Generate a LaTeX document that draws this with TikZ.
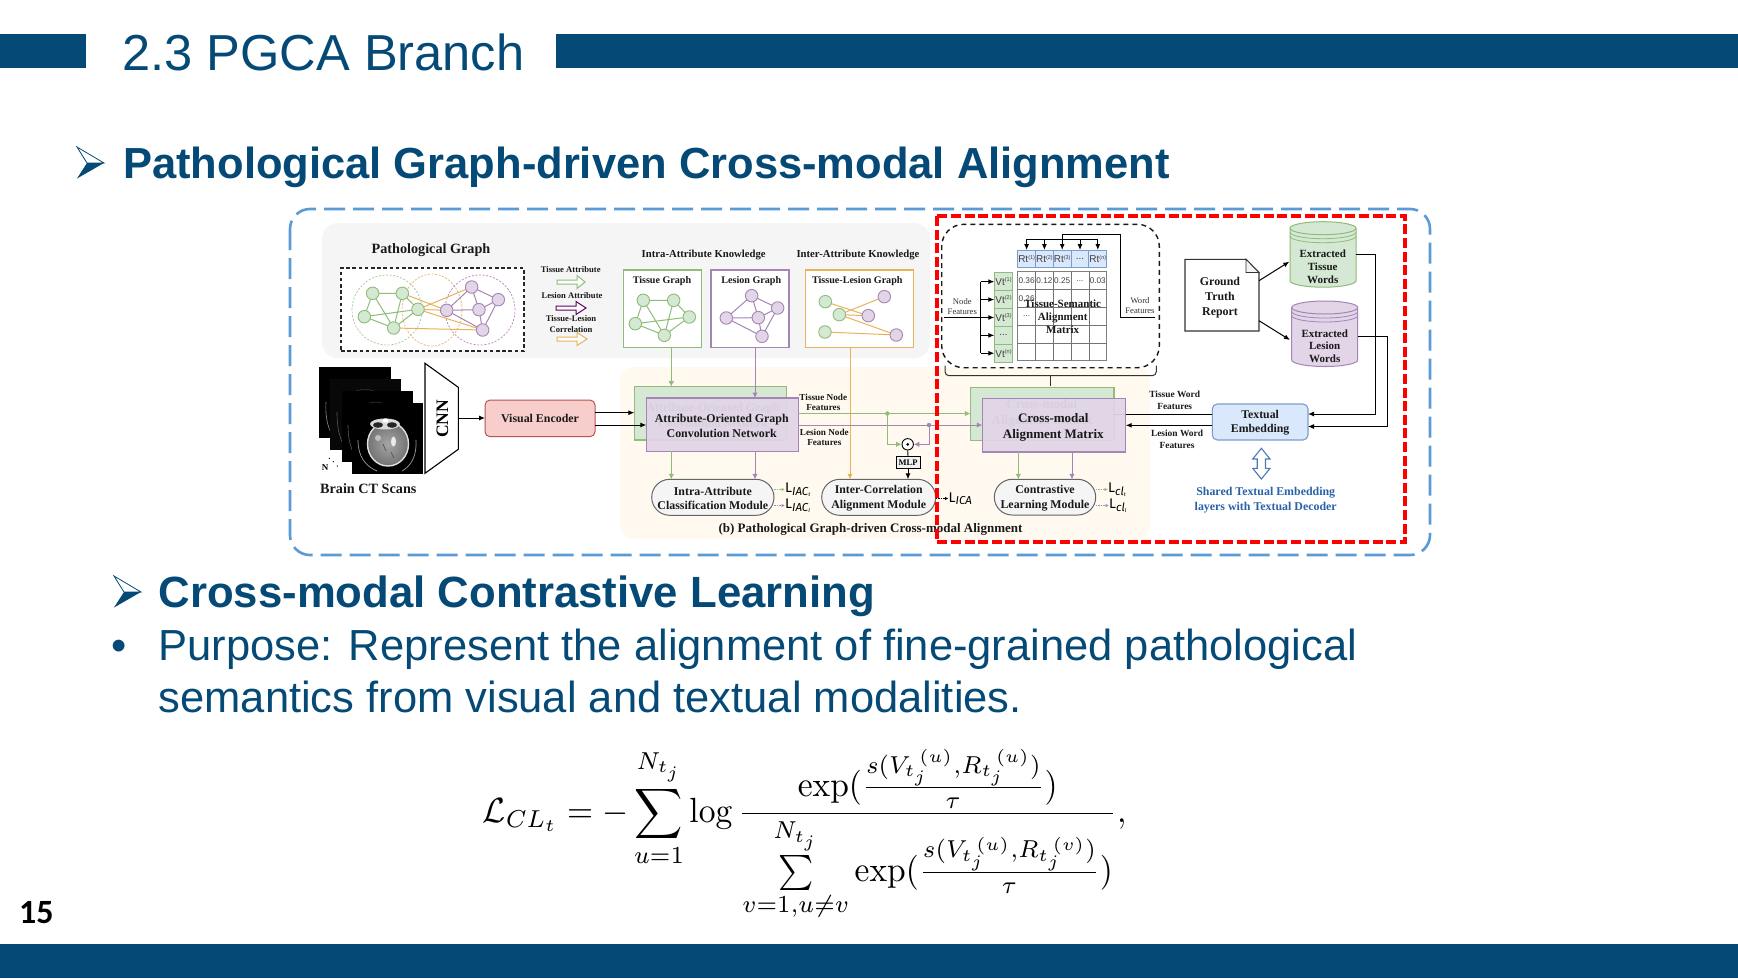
\documentclass[tikz,border=0pt]{standalone}
\usepackage{amsmath}
\usepackage{graphicx}
\usepackage[no-math]{fontspec}
\setmainfont{Liberation Sans}
\newfontfamily\serf{Liberation Serif}
\newfontfamily\lossf{Fira Sans}
\newfontfamily\numf{Carlito}
\usetikzlibrary{arrows.meta,calc,shapes.misc}
\definecolor{navy}{HTML}{054A76}
\definecolor{gfill}{HTML}{D5E8D4}\definecolor{gline}{HTML}{8FBC78}
\definecolor{pfill}{HTML}{E1D5E7}\definecolor{pline}{HTML}{A585B5}
\definecolor{bfill}{HTML}{DAE8FC}\definecolor{bline}{HTML}{7C9CCB}
\definecolor{rfill}{HTML}{F8CECC}\definecolor{rline}{HTML}{B85450}
\definecolor{oline}{HTML}{E6B35C}
\definecolor{cream}{HTML}{FFF9F0}
\definecolor{frameblue}{HTML}{5B9BD5}
\definecolor{sharedblue}{HTML}{2A62A8}
\newcommand\fsz[2]{\fontsize{#1}{#2}\selectfont}
\newcommand\supx[1]{\raisebox{3.6pt}{\fsz{5.5}{6}#1}}
\newcommand\lossb[2]{{\lossf\fsz{14}{14}L}\raisebox{-2.5pt}{\lossf\itshape\fsz{11.5}{11.5}#1\raisebox{-1pt}{\fsz{5.5}{5.5}#2}}}
\newcommand\cylpath[3]{%
 \begin{scope}[shift={(#1)}]
 \filldraw[fill=#2,draw=#3,line width=1pt] (0,6.5) arc(180:0:33pt and 6.5pt) -- (66,59) arc(360:180:33pt and 6.5pt) -- cycle;
 \draw[#3,line width=1pt] (0,6.5) arc(180:360:33pt and 6.5pt);
 \draw[#3,line width=.8pt] (0,10.5) arc(180:360:33pt and 6.5pt);
 \draw[#3,line width=.8pt] (0,14.5) arc(180:360:33pt and 6.5pt);
 \end{scope}}
\newcommand\tribullet[1]{%
 \begin{scope}[shift={(#1)}]
 \draw[navy,fill=white,line width=.8pt,line join=miter] (0,0) -- (-27,-16) -- (-17,0) -- cycle;
 \fill[navy] (0,0) -- (-17,0) -- (-27,15.5) -- cycle;
 \end{scope}}
\newcommand\legarrow[3]{%
 \draw[#3,fill=white,line width=1pt] ($(#1)+(0,-2)$) -- ($(#1)+(20,-2)$) -- ($(#1)+(20,-6.5)$) -- ($(#1)+(#2,0)$) -- ($(#1)+(20,6.5)$) -- ($(#1)+(20,2)$) -- ($(#1)+(0,2)$) -- cycle;}
\tikzset{
 x=1pt,y=-1pt,
 box/.style 2 args={minimum width=#1,minimum height=#2,anchor=north west,inner sep=0pt,outer sep=0pt},
 title/.style={text=navy,anchor=base west,inner sep=0pt},
 sb/.style={font=\serf\bfseries\fsz{#1}{#1},align=center,inner sep=0pt,text=black!90},
 sb/.default=11,
 sbl/.style={font=\serf\bfseries\fsz{9.2}{9.6},align=center,inner sep=0pt,text=black!90},
 ghost/.style={font=\serf\bfseries\fsz{#1}{16},align=center,inner sep=0pt,text=black!55},
 gn/.style={circle,draw=gline,fill=gfill,line width=.9pt,minimum size=12.5pt,inner sep=0pt},
 pn/.style={circle,draw=pline,fill=pfill,line width=.9pt,minimum size=12.5pt,inner sep=0pt},
 ge/.style={gline,line width=1pt},
 pe/.style={pline,line width=1pt},
 oe/.style={oline,line width=1pt},
 blk/.style={black,line width=1pt,-{Latex[length=6pt,width=5pt]}},
 grn/.style={gline,line width=1pt,-{Latex[length=5.5pt,width=5.5pt]}},
 pur/.style={pline,line width=1pt,-{Latex[length=5.5pt,width=5.5pt]}},
 org/.style={oline,line width=1pt,-{Latex[length=5.5pt,width=5.5pt]}},
 lgrn/.style={gline,line width=.8pt,dash pattern=on 1.5pt off 1pt,-{Latex[length=3.5pt,width=3.5pt]}},
 lpur/.style={pline,line width=.8pt,dash pattern=on 1.5pt off 1pt,-{Latex[length=3.5pt,width=3.5pt]}},
 lblk/.style={black,line width=.8pt,dash pattern=on 1.5pt off 1pt,-{Latex[length=3.5pt,width=3.5pt]}},
 module/.style={rounded rectangle,draw=black!60,fill=black!4,line width=1pt,inner sep=0pt,outer sep=0pt},
 cell/.style={font=\fsz{10}{10},inner sep=0pt,text=black!75},
 num/.style={font=\fsz{8.2}{8.2},inner sep=0pt,text=black!75},
}
\begin{document}
\begin{tikzpicture}
\useasboundingbox (0,0) rectangle (1738,978);
\fill[white] (0,0) rectangle (1738,978);
% header and footer
\fill[navy] (0,34) rectangle (86,68);
\fill[navy] (556,34) rectangle (1738,68);
\fill[navy] (0,944) rectangle (1738,978);
\node[title,font=\fsz{50.6}{52}] (head) at (122,70.5) {2.3 PGCA Branch};
\tribullet{104,163}
\node[title,font=\bfseries\fsz{43.5}{44}] (h1) at (123,178) {Pathological Graph-driven Cross-modal Alignment};
\tribullet{141,592}
\node[title,font=\bfseries\fsz{43.7}{44}] (h2) at (158.5,607.5) {Cross-modal Contrastive Learning};
\node[title,font=\fsz{43.5}{44}] (bul) at (111,660) {•};
\node[title,font=\fsz{43.5}{44}] (p1) at (158.5,660) {Purpose: Represent the alignment of fine-grained pathological};
\node[title,font=\fsz{43.5}{44}] (p2) at (158.5,712) {semantics from visual and textual modalities.};
\node[anchor=base west,inner sep=0pt,font=\numf\bfseries\fsz{34}{34},text=black] (pg) at (19,923) {15};
% formula
\node[inner sep=0pt] (formula) at (804.5,835) {\scalebox{3.35}[3.5]{$\displaystyle \mathcal{L}_{CL_t} = -\sum_{u=1}^{N_{t_j}} \log \frac{\exp(\frac{s({V_{t_j}}\!\!^{(u)},{R_{t_j}}\!\!^{(u)})}{\tau})}{\sum\limits_{v=1,u\neq v}^{N_{t_j}} \exp(\frac{s({V_{t_j}}\!\!^{(u)},{R_{t_j}}\!\!^{(v)})}{\tau})},$}};
% panels
\draw[frameblue,line width=2.6pt,rounded corners=20pt,dash pattern=on 21pt off 8pt] (290,209) rectangle (1430,555);
\fill[black!4,rounded corners=16pt] (322,223) rectangle (930,358);
\fill[cream,rounded corners=13pt] (620,367) rectangle (1150,539);
% pathological graph
\node[sb=14.2] (pgt) at (431,250) {Pathological Graph};
\node[box={183}{83},draw=black!85,line width=1.2pt,dash pattern=on 3.6pt off 2.6pt,fill=white] (pgbox) at (341,268) {};
\draw[gline!80,line width=.7pt,dash pattern=on 2pt off 1.6pt] (387,310) circle[radius=35pt];
\draw[oline,line width=.7pt,dash pattern=on 2pt off 1.6pt] (432,310) circle[x radius=30pt,y radius=36pt];
\draw[violet!50,line width=.7pt,dash pattern=on 2pt off 1.6pt] (480,310) circle[radius=35pt];
\begin{scope}[shift={(320,225)},x=.3333pt,y=-.3333pt]
 \coordinate (ga) at (158,205);\coordinate (gb) at (247,205);\coordinate (gc) at (294,253);\coordinate (gd) at (133,275);\coordinate (ge) at (221,309);
 \coordinate (pa) at (380,256);\coordinate (pb) at (455,186);\coordinate (pc) at (477,254);\coordinate (pd) at (535,224);\coordinate (pf) at (488,315);
 \draw[oe] (gb)--(pa) (gc)--(pb) (gc)--(pa) (gc)--(pf) (ge)--(pf);
 \draw[ge] (ga)--(gb) (ga)--(gd) (ga)--(ge) (gb)--(gc) (gb)--(ge) (gc)--(ge) (gd)--(gc) (gd)--(ge);
 \draw[pe] (pa)--(pb) (pa)--(pc) (pa)--(pf) (pb)--(pc) (pb)--(pd) (pc)--(pd) (pc)--(pf) (pd)--(pf);
 \foreach \n in {ga,gb,gc,gd,ge} \node[gn] at (\n) {};
 \foreach \n in {pa,pb,pc,pd,pf} \node[pn] at (\n) {};
\end{scope}
% legend
\node[sb=8.6] (l1) at (570.7,269.5) {Tissue Attribute};
\legarrow{557,282}{28}{gline}
\node[sb=8.6] (l2) at (572,295.5) {Lesion Attribute};
\legarrow{556,308}{30}{violet!75!black}
\node[sbl,font=\serf\bfseries\fsz{8.6}{10.3}] (l3) at (571,324.2) {Tissue-Lesion\\Correlation};
\legarrow{557,339}{30}{oline}
% knowledge
\node[sb=10.7] (ik) at (703.7,255.3) {Intra-Attribute Knowledge};
\node[sb=10.7] (ek) at (858,255.3) {Inter-Attribute Knowledge};
\node[box={78}{77.7},draw=gline,fill=white,line width=1.3pt] (tg) at (623.7,270) {};
\node[box={78}{77.7},draw=pline,fill=white,line width=1.3pt] (lg) at (711,270) {};
\node[box={107.6}{77.7},draw=oline,fill=white,line width=1.3pt] (og) at (805.7,270) {};
\node[sb=10.1] (tgt) at (662,281) {Tissue Graph};
\node[sb=10.1] (lgt) at (751.3,281) {Lesion Graph};
\node[sb=10.1] (ogt) at (857.3,281) {Tissue-Lesion Graph};
\begin{scope}[shift={(620,240)},x=.3333pt,y=-.3333pt]
 \coordinate (ta) at (70,181);\coordinate (tb) at (161,181);\coordinate (tc) at (208,231);\coordinate (td) at (46,251);\coordinate (te) at (133,286);
 \draw[ge] (ta)--(tb) (tb)--(tc) (ta)--(td) (ta)--(te) (tb)--(te) (tc)--(te) (td)--(tc) (td)--(te);
 \foreach \n in {ta,tb,tc,td,te} \node[gn] at (\n) {};
 \coordinate (la) at (395,167);\coordinate (lb) at (473,204);\coordinate (lc) at (415,233);\coordinate (ld) at (319,234);\coordinate (le) at (426,289);
 \draw[pe] (la)--(lb) (la)--(lc) (la)--(ld) (lc)--(ld) (lc)--(lb) (lc)--(le) (ld)--(le) (lb)--(le);
 \foreach \n in {la,lb,lc,ld,le} \node[pn] at (\n) {};
 \coordinate (oa) at (616,185);\coordinate (ob) at (658,224);\coordinate (oc) at (615,276);\coordinate (od) at (793,170);\coordinate (oe) at (745,227);\coordinate (of) at (829,285);
 \draw[oe] (oa)--(oe) (ob)--(od) (ob)--(oe) (ob)--(of) (oc)--(of);
 \foreach \n in {oa,ob,oc} \node[gn] at (\n) {};
 \foreach \n in {od,oe,of} \node[pn] at (\n) {};
\end{scope}
% CT scans
\fill[black] (319.3,367.3) rectangle (391,438.3);
\draw[black!45,line width=.6pt] (326,402) .. controls (325,420) and (329,432) .. (335,438);
\fill[black!97] (330,379) rectangle (401,450);
\draw[black!65,line width=.6pt] (337,412) .. controls (337,432) and (341,442) .. (347,450);
\draw[black!82,line width=.7pt] (344,405) .. controls (350,385) and (375,385) .. (385,400);
\fill[black] (341.7,390.7) rectangle (412.7,461.7);
\draw[black!65,line width=.6pt] (348,425) .. controls (348,442) and (352,452) .. (358,461);
\draw[black!82,line width=.7pt] (355,418) .. controls (360,398) and (385,398) .. (396,412);
\fill[black] (351.7,402.7) rectangle (423.3,474);
\draw[black!40,line width=.7pt] (358,440) .. controls (358,456) and (365,466) .. (377,471);
\draw[black!40,line width=.7pt] (416,440) .. controls (417,456) and (411,466) .. (402,471);
\shade[inner color=black!35,outer color=black!55] (388,444) ellipse[x radius=20.5pt,y radius=22pt];
\draw[black!12,line width=1.4pt] (388,444) ellipse[x radius=20.5pt,y radius=22pt];
\fill[black!15] (385,424) ellipse[x radius=15pt,y radius=5.5pt];
\fill[black!85] (378,425) ellipse[x radius=5pt,y radius=2.8pt] (392,425) ellipse[x radius=5pt,y radius=2.8pt];
\fill[white] (385.5,420.5) ellipse[x radius=3pt,y radius=2.2pt];
\fill[black!8] (393.5,441.5) ellipse[x radius=2.5pt,y radius=5pt];
\fill[black!25] (378,438) ellipse[x radius=3pt,y radius=3pt];
\draw[black!70,line width=.6pt] (383,444) -- (386,451) (391,452) -- (394,458);
\node[inner sep=0pt,font=\serf\bfseries\fsz{9}{9}] (nn) at (325,467.3) {N};
\fill[black] (329.3,458.3) circle[radius=.7pt] (333.3,461.7) circle[radius=.7pt] (337.3,466) circle[radius=.7pt];
\node[sb=14.2] (ct) at (368.3,488.3) {Brain CT Scans};
\draw[black,line width=1.1pt,fill=white] (425,363.3) -- (458.3,387.3) -- (458.3,449.3) -- (425,473.3) -- cycle;
\coordinate (cnnout) at (458.3,418);
\node[sb=17.5,rotate=90,text=black] (cnn) at (442.3,419) {CNN};
\node[box={110}{36.7},draw=rline,fill=rfill,line width=1pt,rounded corners=5pt] (ve) at (485,400) {};
\node[sb=11.9] at (ve.center) {Visual Encoder};
\draw[blk] (cnnout) -- (cnnout -| ve.west);
% Attribute-oriented GCN
\node[box={152.4}{53.3},draw=gline,fill=gfill,line width=1.1pt] (aogG) at (634.3,386.7) {};
\node[ghost=11.8] at (713,415.5) {Attribute-Oriented Graph\\Convolution Network};
\coordinate (vy1) at (0,412.7);\coordinate (vy2) at (0,425);
\draw[blk] (ve.east |- vy1) -- (aogG.west |- vy1);
\node[box={152}{53.3},draw=pline,fill=pfill,fill opacity=.93,line width=1.1pt] (aogP) at (646.3,398) {};
\node[sb=11.9,font=\serf\bfseries\fsz{11.9}{15}] at (721.7,426) {Attribute-Oriented Graph\\Convolution Network};
\draw[blk] (ve.east |- vy2) -- (aogP.west |- vy2);
% modules
\node[module,minimum width=122.3,minimum height=36] (intra) at (712.85,497.3) {};
\node[sb=11.9,font=\serf\bfseries\fsz{11.9}{14.3},yshift=-1pt] at (intra.center) {Intra-Attribute\\Classification Module};
\node[module,minimum width=114,minimum height=36] (inter) at (878.7,497.3) {};
\node[sb=11.8,font=\serf\bfseries\fsz{11.8}{14.3},yshift=-1pt] at (inter.center) {Inter-Correlation\\Alignment Module};
\coordinate (xg) at (671.3,0);\coordinate (xp) at (755,0);\coordinate (xo) at (850,0);
\draw[grn] (tg.south -| xg) -- (aogG.north -| xg);
\draw[pur] (lg.south -| xp) -- (aogP.north -| xp);
\draw[grn] (aogP.south -| xg) -- (intra.north -| xg);
\draw[pur] (aogP.south -| xp) -- (intra.north -| xp);
\draw[org] (og.south -| xo) -- (inter.north -| xo);
\node[sbl] at (823.3,402.2) {Tissue Node\\Features};
\node[sbl] at (824.3,437.4) {Lesion Node\\Features};
% cross-modal
\node[box={143.7}{53.4},draw=gline,fill=gfill,line width=1.1pt] (cmG) at (970.3,387.3) {};
\node[ghost=13] at (1042,413.7) {Cross-modal\\Alignment Matrix};
\coordinate (ty1) at (0,414);\coordinate (ty2) at (0,426.5);\coordinate (ty3) at (0,425.3);
\node[box={95.7}{36},draw=bline,fill=bfill,line width=1.1pt,rounded corners=5pt] (te) at (1212.3,404) {};
\draw[black,line width=1pt] (te.west |- ty1) -- (cmG.east |- ty1);
\node[box={143.4}{53.3},draw=pline,fill=pfill,fill opacity=.93,line width=1.1pt] (cmP) at (982.3,398.7) {};
\node[sb=13,font=\serf\bfseries\fsz{13}{16}] at (1053.3,427.3) {Cross-modal\\Alignment Matrix};
\node[module,minimum width=101.4,minimum height=35.7] (cl) at (1045,497.15) {};
\node[sb=11.9,font=\serf\bfseries\fsz{11.9}{14.3},yshift=-1pt] at (cl.center) {Contrastive\\Learning Module};
\coordinate (xg2) at (1018.3,0);\coordinate (xp2) at (1072,0);
\draw[grn] (cmP.south -| xg2) -- (cl.north -| xg2);
\draw[pur] (cmP.south -| xp2) -- (cl.north -| xp2);
% feature lines and MLP
\coordinate (fy1) at (0,413.5);\coordinate (fy2) at (0,425);
\node[circle,draw=black,fill=white,line width=.9pt,minimum size=11.4pt,inner sep=0pt] (odot) at (907.7,444.3) {};
\fill[black] (odot) circle[radius=1.5pt];
\node[draw=black,fill=black!5,line width=.9pt,minimum width=24pt,minimum height=11.6pt,inner sep=0pt,font=\serf\bfseries\fsz{8.5}{8.5}] (mlp) at (908,462.5) {MLP};
\coordinate (gdot) at (887.3,413.5);\coordinate (pdot) at (929,425);
\draw[grn] (aogP.east |- fy1) -- (cmG.west |- fy1);
\draw[pur] (aogP.east |- fy2) -- (cmP.west |- fy2);
\draw[grn] (gdot) |- (odot.west);
\draw[pur] (pdot) |- (odot.east);
\fill[gline] (gdot) circle[radius=2.2pt];
\fill[pline] (pdot) circle[radius=2.2pt];
\draw[black,line width=.9pt] (odot.south) -- (mlp.north);
\draw[blk] (mlp.south) -- (mlp.south |- inter.north);
% losses
\node[anchor=west,inner sep=0pt] (l1a) at (785,489.5) {\lossb{IAC}{t}};
\node[anchor=west,inner sep=0pt] (l1b) at (785,505.5) {\lossb{IAC}{l}};
\node[anchor=west,inner sep=0pt] (l2a) at (948.5,498.5) {{\lossf\fsz{14}{14}L}\raisebox{-2.5pt}{\lossf\itshape\fsz{11.5}{11.5}ICA}};
\node[anchor=west,inner sep=0pt] (l3a) at (1108,489.5) {\lossb{cl}{t}};
\node[anchor=west,inner sep=0pt] (l3b) at (1109,505.5) {\lossb{cl}{l}};
\draw[lgrn] (intra.east |- l1a) -- (l1a.west);
\draw[lpur] (intra.east |- l1b) -- (l1b.west);
\draw[lblk] (inter.east |- l2a) -- (l2a.west);
\draw[lgrn] (cl.east |- l3a) -- (l3a.west);
\draw[lpur] (cl.east |- l3b) -- (l3b.west);
\node[sb=13,anchor=center] (cap) at (870.5,529.7) {(b) Pathological Graph-driven Cross-modal Alignment};
% alignment matrix panel
\node[box={217.6}{143.4},draw=black!90,line width=1.4pt,dash pattern=on 5pt off 4pt,rounded corners=22pt] (dbox) at (941.7,224.3) {};
\draw[black!80,line width=1pt,rounded corners=4pt] (945,365.5) -- (945,375.7) -- (1156.3,375.7) -- (1156.3,365.5);
\draw[black!80,line width=1pt] (1050.7,375.7) -- (1050.7,386);
\foreach \i/\t in {1/{Rt\supx{(1)}},2/{Rt\supx{(2)}},3/{Rt\supx{(3)}},4/{...},5/{Rt\supx{(n)}}}{
 \node[box={17.8}{17.7},draw=bline,fill=bfill,line width=1pt,cell] (rt\i) at ({1017.7+(\i-1)*17.8},250) {\t};
}
\foreach \i/\t in {1/{Vt\supx{(1)}},2/{Vt\supx{(2)}},3/{Vt\supx{(3)}},4/{...},5/{Vt\supx{(n)}}}{
 \node[box={18.4}{17.9},draw=gline,fill=gfill,line width=1pt,cell] (vt\i) at (994.3,{272.7+(\i-1)*17.9}) {\t};
}
\node[box={89}{89},draw=black!50,line width=1pt] (tbl) at (1017.7,271.7) {};
\foreach \i in {1,2,3,4}{
 \draw[black!55,line width=.8pt] ($(tbl.north west)+({\i*17.8},0)$) -- ($(tbl.south west)+({\i*17.8},0)$);
 \draw[black!55,line width=.8pt] ($(tbl.north west)+(0,{\i*17.8})$) -- ($(tbl.north east)+(0,{\i*17.8})$);
}
\foreach \i/\t in {1/{0.36},2/{0.12},3/{0.25},4/{...},5/{0.03}}{
 \node[num] at ({1017.7+(\i-.5)*17.8},280.6) {\t};
}
\node[num] at (1026.6,298.4) {0.26};
\node[num] at (1026.6,316.2) {...};
\node[sb=11,font=\serf\bfseries\fsz{11}{13}] (tsam) at (1062.7,317) {Tissue-Semantic\\Alignment\\Matrix};
\node[font=\serf\fsz{8.6}{9.6},align=center,inner sep=0pt,text=black!80] (nf) at (962.3,306.4) {Node\\Features};
\node[font=\serf\fsz{8.6}{9.6},align=center,inner sep=0pt,text=black!80] (wf) at (1140,305.5) {Word\\Features};
\coordinate (nfs) at (944.3,317.3);\coordinate (busx) at (980.7,0);
\draw[black,line width=1pt] (nfs) -- (nfs -| busx);
\draw[black,line width=1pt] (vt1.west -| busx) -- (vt5.west -| busx);
\foreach \i in {1,...,5} \draw[blk] (vt\i.west -| busx) -- (vt\i.west);
\coordinate (wfs) at (1155,317.3);\coordinate (wtop) at (1120,234);\coordinate (busy) at (0,239);
\draw[black,line width=1pt] (wfs) -| (wtop) -| (rt3.north |- busy);
\draw[black,line width=1pt] (rt1.north |- busy) -- (rt5.north |- busy);
\foreach \i in {1,...,5} \draw[blk] (rt\i.north |- busy) -- (rt\i.north);
% report and words
\node[box={74}{71.7}] (gtr) at (1185,259.3) {};
\coordinate (foldT) at (1246,259.3);\coordinate (foldB) at (1246,272.5);\coordinate (foldR) at (1259,272.5);
\filldraw[draw=black!80,fill=white,line width=1.1pt] (gtr.north west) -- (foldT) -- (foldR) -- (gtr.south east) -- (gtr.south west) -- cycle;
\draw[draw=black!80,fill=black!5,line width=.9pt] (foldT) -- (foldB) -- (foldR) -- cycle;
\node[sb=11.9,font=\serf\bfseries\fsz{11.9}{14.6}] at (1220,297.7) {Ground\\Truth\\Report};
\cylpath{1290,221.7}{gfill}{gline}
\node[box={66}{65.6}] (tw) at (1290,221.7) {};
\node[sb=11,font=\serf\bfseries\fsz{11}{12.8}] at (1322.7,267) {Extracted\\Tissue\\Words};
\cylpath{1291.7,301}{pfill}{pline}
\node[box={66}{65.6}] (lw) at (1291.7,301) {};
\node[sb=11,font=\serf\bfseries\fsz{11}{12.7}] at (1324.7,346.2) {Extracted\\Lesion\\Words};
\coordinate (ga1) at (1259,280.7);\coordinate (ga2) at (1289.3,261.7);\coordinate (ga3) at (1259,320.7);\coordinate (ga4) at (1290,340);
\draw[blk] (ga1) -- (ga2);
\draw[blk] (ga3) -- (ga4);
\node[sb=11.8,font=\serf\bfseries\fsz{11.8}{14.4},yshift=-1pt] at (te.center) {Textual\\Embedding};
\coordinate (lx1) at (1375.3,0);\coordinate (lx2) at (1387.3,0);
\coordinate (twy) at (0,254.3);\coordinate (lwy) at (0,336.7);
\draw[blk] (tw.east |- twy) -- (lx1 |- twy) -- (lx1 |- ty1) -- (te.east |- ty1);
\draw[blk] (lw.east |- lwy) -- (lx2 |- lwy) -- (lx2 |- ty2) -- (te.east |- ty2);
\draw[blk] (te.west |- ty3) -- (cmP.east |- ty3);
\node[sbl,font=\serf\bfseries\fsz{9.4}{11.6}] at (1174.7,400.5) {Tissue Word\\Features};
\node[sbl,font=\serf\bfseries\fsz{9.4}{11.6}] at (1177,439.2) {Lesion Word\\Features};
% double arrow
\draw[sharedblue!85,fill=white,line width=1.1pt] (1261.4,448.3) -- (1270,459) -- (1265.5,459) -- (1265.5,468.3) -- (1270,468.3) -- (1261.4,479) -- (1252.7,468.3) -- (1257.2,468.3) -- (1257.2,459) -- (1252.7,459) -- cycle;
\node[sb=11.9,font=\serf\bfseries\fsz{11.9}{14.3},text=sharedblue] (shared) at (1265.7,500) {Shared Textual Embedding\\layers with Textual Decoder};
% red highlight
\draw[red,line width=3.6pt,dash pattern=on 10pt off 3.6pt] (937,216) rectangle (1405,542);
\end{tikzpicture}
\end{document}
